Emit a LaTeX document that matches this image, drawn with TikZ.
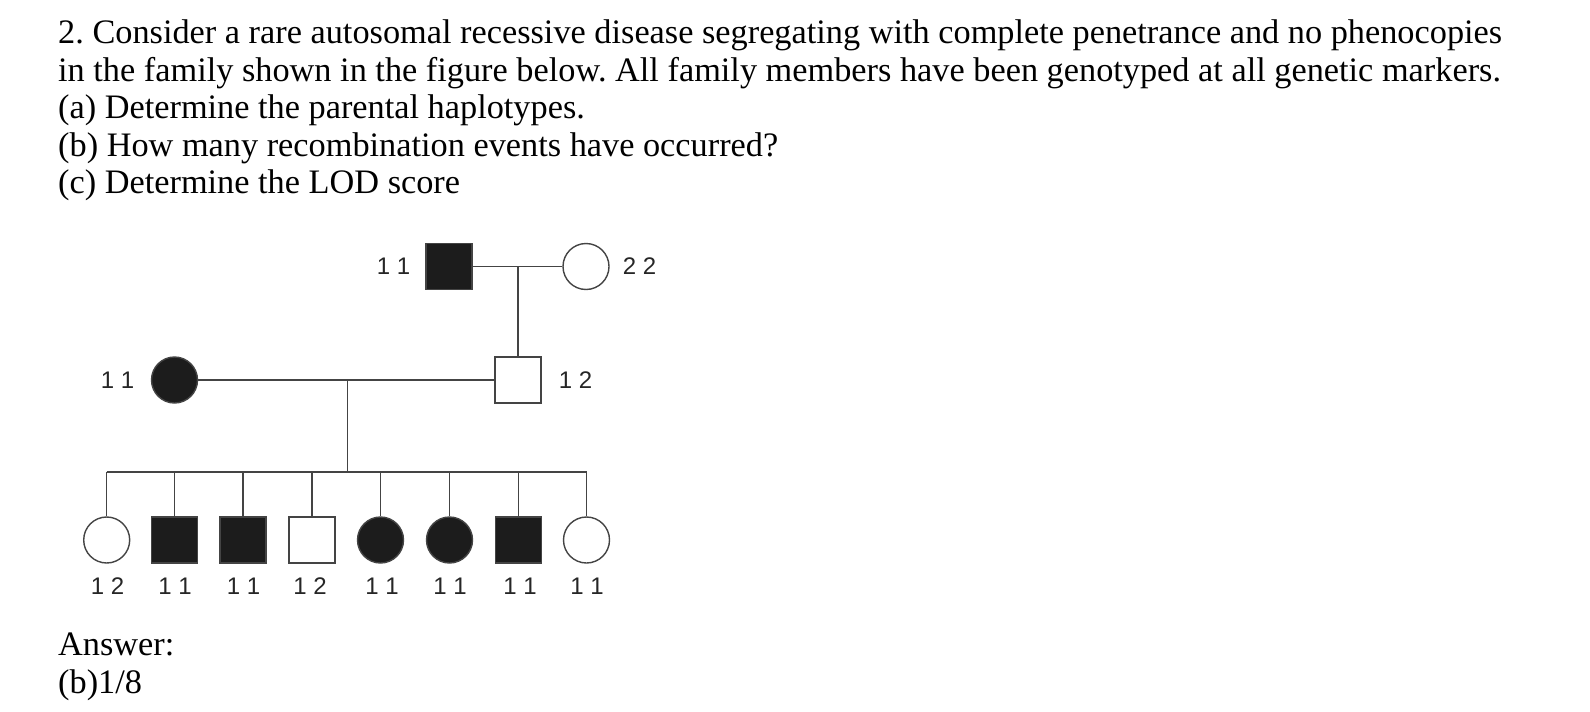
\documentclass[tikz,border=0pt]{standalone}
\usepackage{fontspec}
\setmainfont{Liberation Serif}
\newfontfamily\labfont{Liberation Sans}
\usetikzlibrary{shapes.geometric}
\definecolor{lnc}{HTML}{444444}
\definecolor{fillc}{HTML}{1C1C1C}
\frenchspacing
\begin{document}
\begin{tikzpicture}[x=1pt,y=-1pt,
  txt/.style={anchor=base west, inner sep=0pt, font=\fontsize{34.3}{40}\selectfont},
  lab/.style={inner sep=0pt, text=black!85, font=\labfont\fontsize{24}{28}\selectfont},
  male/.style={draw=lnc, line width=1.4pt, rectangle, minimum width=46pt, minimum height=46pt, inner sep=0pt},
  female/.style={draw=lnc, line width=1.4pt, circle, minimum size=46pt, inner sep=0pt},
  aff/.style={fill=fillc},
  unaff/.style={fill=white},
  link/.style={line width=1.5pt, draw=lnc}]
\path[use as bounding box, fill=white] (0,0) rectangle (1590,712);

% question text
\node[txt] (t1) at (58,43.5) {2. Consider a rare autosomal recessive disease segregating with complete penetrance and no phenocopies};
\node[txt] (t2) at (58,81) {in the family shown in the figure below. All family members have been genotyped at all genetic markers.};
\node[txt] (t3) at (58,118.5) {(a) Determine the parental haplotypes.};
\node[txt] (t4) at (58,156) {(b) How many recombination events have occurred?};
\node[txt] (t5) at (58,193.5) {(c) Determine the LOD score};

% generation I
\node[male,aff] (f) at (449,266.5) {};
\node[female,unaff] (m) at (586,266.5) {};
\node[lab] (lf) at (393.5,266.5) {1 1};
\node[lab] (lm) at (639.5,266.5) {2 2};
\draw[link] (f) -- (m);

% generation II
\node[male,unaff] (s) at (517.8,380) {};
\node[female,aff] (w) at (174.5,380) {};
\node[lab] (ls) at (575.5,380) {1 2};
\node[lab] (lw) at (117.5,380) {1 1};
\coordinate (fm) at (517.8,266.5);
\draw[link] (fm) -- (s.north);
\draw[link] (w) -- (s);
\coordinate (ws) at (347.3,380);
\coordinate (sib) at (347.3,472);
\draw[link] (ws) -- (sib);

% generation III
\node[female,unaff] (c1) at (106.7,540) {};
\node[male,aff]     (c2) at (174.7,540) {};
\node[male,aff]     (c3) at (243,540) {};
\node[male,unaff]   (c4) at (312,540) {};
\node[female,aff]   (c5) at (380.5,540) {};
\node[female,aff]   (c6) at (449.5,540) {};
\node[male,aff]     (c7) at (518.3,540) {};
\node[female,unaff] (c8) at (586.5,540) {};
\draw[link] (c1.north |- sib) -- (c8.north |- sib);
\foreach \c in {c1,c2,c3,c4,c5,c6,c7,c8}
  \draw[link] (\c.north |- sib) -- (\c.north);
\node[lab] (l1) at (107.5,586.5) {1 2};
\node[lab] (l2) at (175,586.5) {1 1};
\node[lab] (l3) at (243.5,586.5) {1 1};
\node[lab] (l4) at (310,586.5) {1 2};
\node[lab] (l5) at (382,586.5) {1 1};
\node[lab] (l6) at (450,586.5) {1 1};
\node[lab] (l7) at (520,586.5) {1 1};
\node[lab] (l8) at (587,586.5) {1 1};

% answer
\node[txt] (a1) at (58,655) {Answer:};
\node[txt] (a2) at (58,693) {(b)1/8};
\end{tikzpicture}
\end{document}
